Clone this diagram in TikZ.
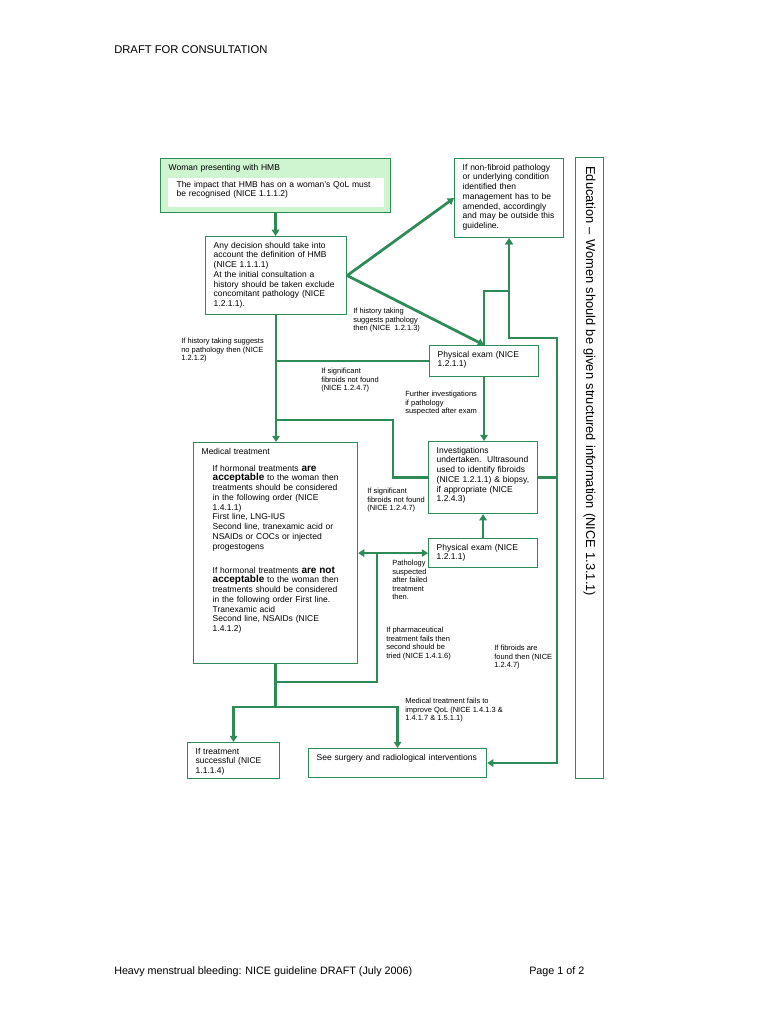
\documentclass[tikz,border=0pt]{standalone}
\usepackage{fontspec}
\setmainfont{Liberation Sans}
\usepackage{tikz}
\usetikzlibrary{%
  arrows.meta,% Triangle tips
  positioning%
}
\definecolor{nicegreen}{RGB}{46,139,87}
\definecolor{palegreen}{RGB}{206,244,208}

\newcommand{\boxfont}{\fontsize{6.8}{7.8}\selectfont}
\newcommand{\notefont}{\fontsize{6}{6.8}\selectfont}
\newcommand{\headfont}{\fontsize{9}{11}\selectfont}
\newcommand{\footfont}{\fontsize{8.6}{11}\selectfont}
\newcommand{\edufont}{\fontsize{10.3}{12}\selectfont}
\newcommand{\bigbold}[1]{{\fontsize{8}{7.8}\selectfont\bfseries #1}}

\begin{document}
\begin{tikzpicture}[x=0.8pt, y=-0.8pt,
    box/.style={draw=nicegreen, line width=0.9pt, anchor=north west, align=left, inner xsep=6.5pt, inner ysep=3pt, text height=6.2pt, font=\boxfont},
    note/.style={anchor=north west, align=left, inner sep=0pt, font=\notefont},
    link/.style={draw=nicegreen, line width=2.2pt},
    flow/.style={link, -{Triangle[length=5pt,width=6pt]}},
    twoway/.style={link, {Triangle[length=5pt,width=6pt]}-{Triangle[length=5pt,width=6pt]}}]
    \useasboundingbox (0,0) rectangle (768,1024);

    %page head and foot
    \node[anchor=west, inner sep=0pt, font=\headfont] (head) at (114,50) {DRAFT FOR CONSULTATION};
    \node[anchor=west, inner sep=0pt, font=\footfont] (foot) at (114,972) {Heavy menstrual bleeding: NICE guideline DRAFT (July 2006)};
    \node[anchor=west, inner sep=0pt, font=\footfont] (pageno) at (529,972) {Page 1 of 2};

    %first contact
    \node[box, fill=palegreen, text width=171pt, text depth=31pt] (hmb) at (160,158) {Woman presenting with HMB};
    \node[box, draw=none, fill=white, inner xsep=7.2pt, text width=158.4pt, text height=4.6pt, text depth=12.6pt] (qol) at (167,177) {The impact that HMB has on a woman's QoL must\\ be recognised (NICE 1.1.1.2)};
    \node[box, text width=99.8pt, text depth=50.2pt] (decision) at (205,236) {Any decision should take into\\ account the definition of HMB\\ (NICE 1.1.1.1)\\ At the initial consultation a\\ history should be taken exclude\\ concomitant pathology (NICE\\ 1.2.1.1).};
    \node[box, text width=74.2pt, text depth=51pt] (nonfib) at (454,158) {If non-fibroid pathology\\ or underlying condition\\ identified then\\ management has to be\\ amended, accordingly\\ and may be outside this\\ guideline.};

    %exams and investigations
    \node[box, text width=74.2pt, text depth=12.6pt] (exam1) at (429,345) {Physical exam (NICE\\ 1.2.1.1)};
    \node[box, text width=74.2pt, text depth=45.4pt] (invest) at (428,441) {Investigations\\ undertaken.\ \ Ultrasound\\ used to identify fibroids\\ (NICE 1.2.1.1) \& biopsy,\\ if appropriate (NICE\\ 1.2.4.3)};
    \node[box, text width=74.2pt, text depth=11pt] (exam2) at (428,538) {Physical exam (NICE\\ 1.2.1.1)};

    %treatment
    \node[box, text width=118.2pt, text depth=164.6pt] (medical) at (193,442) {Medical treatment\par
      \vspace{5.8pt}\leftskip=8.8pt
      If hormonal treatments \bigbold{are}\\
      \bigbold{acceptable} to the woman then\\
      treatments should be considered\\
      in the following order (NICE\\
      1.4.1.1)\\
      First line, LNG-IUS\\
      Second line, tranexamic acid or\\
      NSAIDs or COCs or injected\\
      progestogens\par
      \vspace{11.4pt}
      If hormonal treatments \bigbold{are not}\\
      \bigbold{acceptable} to the woman then\\
      treatments should be considered\\
      in the following order First line.\\
      Tranexamic acid\\
      Second line, NSAIDs (NICE\\
      1.4.1.2)\par};
    \node[box, text width=60.6pt, text depth=16.6pt] (success) at (187,742) {If treatment\\ successful (NICE\\ 1.1.1.4)};
    \node[box, text width=129.4pt, text depth=11pt] (surgery) at (308,748) {See surgery and radiological interventions};

    %education side bar
    \node[draw=nicegreen, line width=0.9pt, rotate=-90, anchor=north west, align=left, minimum width=496.8pt, minimum height=22.4pt, text width=482.8pt, inner xsep=7pt, font=\edufont] (edu) at (604,157) {Education -- Women should be given structured information (NICE 1.3.1.1)};

    %edge labels
    \node[note] (histpath) at (353,308) {If history taking\\ suggests pathology\\ then (NICE\ \ 1.2.1.3)};
    \node[note] (nopath) at (181,338) {If history taking suggests\\ no pathology then (NICE\\ 1.2.1.2)};
    \node[note] (nofib1) at (321,368) {If significant\\ fibroids not found\\ (NICE 1.2.4.7)};
    \node[note] (further) at (405,391) {Further investigations\\ if pathology\\ suspected after exam};
    \node[note] (nofib2) at (367,488) {If significant\\ fibroids not found\\ (NICE 1.2.4.7)};
    \node[note] (failed) at (392,560) {Pathology\\ suspected\\ after failed\\ treatment\\ then.};
    \node[note] (pharma) at (386,627) {If pharmaceutical\\ treatment fails then\\ second should be\\ tried (NICE 1.4.1.6)};
    \node[note] (fibfound) at (494,645) {If fibroids are\\ found then (NICE\\ 1.2.4.7)};
    \node[note] (fails) at (405,698) {Medical treatment fails to\\ improve QoL (NICE 1.4.1.3 \&\\ 1.4.1.7 \& 1.5.1.1)};

    %bends
    \coordinate (rowA) at (0,291);
    \coordinate (rowB) at (393,420);
    \coordinate (rowC) at (377,682);
    \coordinate (rowD) at (0,707);
    \coordinate (railtop) at (557,338);

    %connectors
    \draw[flow] (hmb.south) -- (hmb.south |- decision.north);
    \draw[flow] (decision.east) -- (nonfib.west);
    \draw[flow] (decision.east) -- (exam1.north);
    \draw[flow] (decision.south) -- (decision.south |- medical.north);
    \draw[link] (exam1.west) -- (exam1.west -| decision.south);
    \draw[flow] (exam1.south) -- (exam1.south |- invest.north);
    \draw[flow] (exam1.north) |- (rowA -| nonfib.south) -- (nonfib.south);
    \draw[flow] (invest.east) -| (railtop) -| (nonfib.south);
    \draw[flow] (invest.east -| railtop) |- (surgery.east);
    \draw[link] (invest.west) -| (rowB) -- (rowB -| decision.south);
    \draw[flow] (exam2.north) -- (exam2.north |- invest.south);
    \draw[twoway] (medical.east |- exam2.west) -- (exam2.west);
    \draw[link] (exam2.west -| rowC) -- (rowC) -- (rowC -| medical.south);
    \draw[link] (medical.south) -- (medical.south |- rowD);
    \draw[flow] (medical.south |- rowD) -| (success.north);
    \draw[flow] (medical.south |- rowD) -| (surgery.north);
\end{tikzpicture}
\end{document}
